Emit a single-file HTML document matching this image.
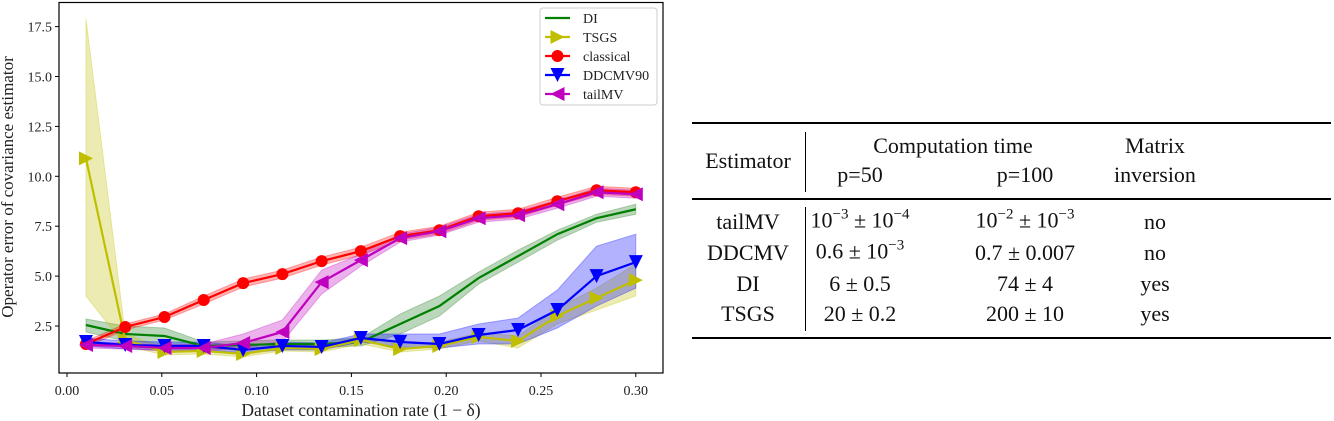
<!DOCTYPE html>
<html><head><meta charset="utf-8"><style>
body{margin:0;width:1334px;height:421px;background:#fff;overflow:hidden;position:relative;font-family:"Liberation Serif",serif;}
svg{position:absolute;left:0;top:0;}
.t{position:absolute;font-size:22px;line-height:24px;color:#111;text-align:center;white-space:nowrap;transform:translate(-50%,-50%);}
.t .s{font-size:15px;position:relative;top:-9px;}
.rule{position:absolute;background:#000;}
</style></head><body>
<svg id="chart" width="680" height="421"></svg>
<div>
<div class="rule" style="left:692px;top:122px;width:639px;height:2px"></div>
<div class="rule" style="left:692px;top:198px;width:639px;height:1.5px"></div>
<div class="rule" style="left:692px;top:337px;width:639px;height:2px"></div>
<div class="rule" style="left:805px;top:132px;width:1px;height:60px"></div>
<div class="rule" style="left:805px;top:207px;width:1px;height:124px"></div>
<div class="t" style="left:748px;top:161px">Estimator</div>
<div class="t" style="left:953px;top:146px">Computation time</div>
<div class="t" style="left:860px;top:175px">p=50</div>
<div class="t" style="left:1025px;top:175px">p=100</div>
<div class="t" style="left:1155px;top:146px">Matrix</div>
<div class="t" style="left:1155px;top:175px">inversion</div>
<div class="t" style="left:748px;top:222px">tailMV</div>
<div class="t" style="left:860px;top:222px">10<span class="s">−3</span> ± 10<span class="s">−4</span></div>
<div class="t" style="left:1025px;top:222px">10<span class="s">−2</span> ± 10<span class="s">−3</span></div>
<div class="t" style="left:1155px;top:222px">no</div>
<div class="t" style="left:748px;top:253px">DDCMV</div>
<div class="t" style="left:860px;top:253px">0.6 ± 10<span class="s">−3</span></div>
<div class="t" style="left:1025px;top:253px">0.7 ± 0.007</div>
<div class="t" style="left:1155px;top:253px">no</div>
<div class="t" style="left:748px;top:284px">DI</div>
<div class="t" style="left:860px;top:284px">6 ± 0.5</div>
<div class="t" style="left:1025px;top:284px">74 ± 4</div>
<div class="t" style="left:1155px;top:284px">yes</div>
<div class="t" style="left:748px;top:314px">TSGS</div>
<div class="t" style="left:860px;top:314px">20 ± 0.2</div>
<div class="t" style="left:1025px;top:314px">200 ± 10</div>
<div class="t" style="left:1155px;top:314px">yes</div>
</div>
<script>
const xs=[0.01,0.0307,0.0514,0.0721,0.0929,0.1136,0.1343,0.155,0.1757,0.1964,0.2171,0.2379,0.2586,0.2793,0.30];
const diVals=[2.55,2.1,2.0,1.5,1.55,1.6,1.6,1.7,2.6,3.5,4.9,6.0,7.1,7.9,8.35];
const diLo=[2.2,1.75,1.6,1.35,1.4,1.45,1.45,1.5,2.1,3.0,4.6,5.7,6.8,7.7,8.1];
const diHi=[2.85,2.5,2.4,1.7,1.75,1.8,1.8,1.9,3.1,4.0,5.2,6.3,7.3,8.1,8.6];
const tsgsVals=[10.9,1.8,1.2,1.25,1.1,1.4,1.35,1.8,1.35,1.5,1.95,1.75,3.0,3.9,4.8];
const tsgsLo=[4.0,1.5,1.05,1.1,0.95,1.25,1.2,1.6,1.2,1.35,1.75,1.4,2.6,3.3,4.0];
const tsgsHi=[17.9,2.1,1.4,1.4,1.3,1.6,1.5,2.0,1.55,1.7,2.15,2.0,3.4,4.4,5.6];
const clVals=[1.6,2.45,2.95,3.8,4.65,5.1,5.75,6.25,7.0,7.3,8.0,8.15,8.75,9.3,9.2];
const clLo=[1.45,2.3,2.8,3.6,4.45,4.9,5.55,6.05,6.8,7.1,7.8,7.95,8.55,9.1,9.0];
const clHi=[1.75,2.6,3.1,4.0,4.85,5.3,5.95,6.45,7.2,7.5,8.2,8.35,8.95,9.5,9.4];
const ddVals=[1.7,1.55,1.5,1.5,1.3,1.5,1.45,1.9,1.7,1.6,2.05,2.3,3.3,5.0,5.7];
const ddLo=[1.5,1.35,1.3,1.3,1.15,1.3,1.3,1.7,1.45,1.4,1.6,1.6,2.4,3.5,4.4];
const ddHi=[1.9,1.75,1.7,1.7,1.5,1.7,1.65,2.1,2.1,2.1,2.6,2.9,4.3,6.5,7.1];
const tmVals=[1.55,1.5,1.4,1.4,1.65,2.2,4.7,5.8,6.9,7.25,7.9,8.05,8.6,9.2,9.1];
const tmLo=[1.4,1.35,1.25,1.25,1.4,1.7,4.1,5.5,6.7,7.05,7.7,7.85,8.4,9.0,8.9];
const tmHi=[1.7,1.65,1.55,1.6,2.1,2.8,5.3,6.1,7.1,7.45,8.1,8.25,8.8,9.4,9.3];
const xTicks=[0,0.05,0.1,0.15,0.2,0.25,0.3];
const xTickLabels=["0.00","0.05","0.10","0.15","0.20","0.25","0.30"];
const yTicks=[2.5,5,7.5,10,12.5,15,17.5];
const yTickLabels=["2.5","5.0","7.5","10.0","12.5","15.0","17.5"];
const series=[
 {name:"DI",key:"di",color:"#1f7a1f",line:"green",vals:diVals,lo:diLo,hi:diHi,m:"none"},
 {name:"TSGS",key:"tsgs",color:"#bfbf00",line:"#bfbf00",vals:tsgsVals,lo:tsgsLo,hi:tsgsHi,m:"right"},
 {name:"classical",key:"classical",color:"red",line:"red",vals:clVals,lo:clLo,hi:clHi,m:"circle"},
 {name:"DDCMV90",key:"ddcmv90",color:"blue",line:"blue",vals:ddVals,lo:ddLo,hi:ddHi,m:"down"},
 {name:"tailMV",key:"tailmv",color:"#bf00bf",line:"#bf00bf",vals:tmVals,lo:tmLo,hi:tmHi,m:"left"}
];
const NS="http://www.w3.org/2000/svg";
const svg=document.getElementById("chart");
const X=v=>67+v/0.05*94.8;
const Y=v=>326-(v-2.5)/2.5*49.9;
function el(t,a,p){const e=document.createElementNS(NS,t);for(const k in a)e.setAttribute(k,a[k]);(p||svg).appendChild(e);return e;}
function marker(m,x,y,c,g){
 const s=7;let e;
 if(m==="circle")e=el("circle",{cx:x,cy:y,r:6,fill:c},g);
 else if(m==="right")e=el("polygon",{points:`${x+s},${y} ${x-s},${y-s} ${x-s},${y+s}`,fill:c},g);
 else if(m==="left")e=el("polygon",{points:`${x-s},${y} ${x+s},${y-s} ${x+s},${y+s}`,fill:c},g);
 else if(m==="down")e=el("polygon",{points:`${x},${y+s} ${x-s},${y-s} ${x+s},${y-s}`,fill:c},g);
 return e;
}
const frame=el("rect",{x:59,y:2.5,width:604,height:370.5,fill:"none",stroke:"#000","stroke-width":1.2});


xTicks.forEach((t,i)=>{
 el("line",{x1:X(t),x2:X(t),y1:373,y2:377,stroke:"#000"});
 const tx=el("text",{x:X(t),y:395,"text-anchor":"middle","font-size":14,fill:"#222"});
 tx.textContent=xTickLabels[i];
 
 
});
yTicks.forEach((t,i)=>{
 el("line",{x1:55,x2:59,y1:Y(t),y2:Y(t),stroke:"#000"});
 const tx=el("text",{x:52,y:Y(t)+5,"text-anchor":"end","font-size":14,fill:"#222"});
 tx.textContent=yTickLabels[i];
 
 
});
const xl=el("text",{x:361,y:416,"text-anchor":"middle","font-size":17.5,fill:"#222"});
xl.textContent="Dataset contamination rate (1 − δ)";


const yl=el("text",{x:0,y:0,"text-anchor":"middle","font-size":17,fill:"#222",transform:"translate(13,187) rotate(-90)"});
yl.textContent="Operator error of covariance estimator";


series.forEach(s=>{
 let pts=xs.map((x,i)=>X(x)+","+Y(s.hi[i]));
 pts=pts.concat(xs.map((x,i)=>X(x)+","+Y(s.lo[i])).reverse());
 const b=el("polygon",{points:pts.join(" "),fill:s.color,"fill-opacity":0.3,stroke:s.color,"stroke-opacity":0.3});
 
 
});
series.forEach(s=>{
 const g=el("g",{});
 
 
 el("polyline",{points:xs.map((x,i)=>X(x)+","+Y(s.vals[i])).join(" "),fill:"none",stroke:s.line,"stroke-width":2.2},g);
 if(s.m!=="none")xs.forEach((x,i)=>{
  const m=marker(s.m,X(x),Y(s.vals[i]),s.line,g);
  
  
 });
});
const lg=el("g",{});


el("rect",{x:540,y:8,width:117,height:97,rx:3,fill:"#fff","fill-opacity":0.85,stroke:"#ccc"},lg);
series.forEach((s,i)=>{
 const y=18+i*19;
 const e=el("g",{},lg);
 
 
 el("line",{x1:545,x2:570,y1:y,y2:y,stroke:s.line,"stroke-width":2.2},e);
 if(s.m!=="none")marker(s.m,557.5,y,s.line,e);
 const t=el("text",{x:583,y:y+5,"font-size":14,fill:"#222"},e);
 t.textContent=s.name;
});
</script>
</body></html>
